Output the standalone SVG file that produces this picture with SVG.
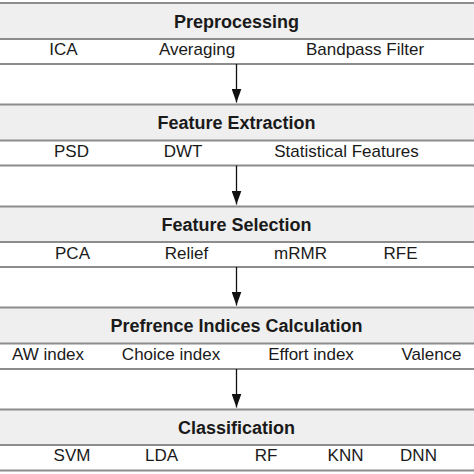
<svg xmlns="http://www.w3.org/2000/svg" width="474" height="474" viewBox="0 0 474 474">
<style>
.band{fill:#efefef}
.ln{stroke:#8c8c8c;stroke-width:1.8;fill:none}
.hd{font-family:"Liberation Sans",Arial,sans-serif;font-weight:bold;font-size:18px;fill:#1a1a1a;text-anchor:middle}
.it{font-family:"Liberation Sans",Arial,sans-serif;font-size:17px;fill:#1a1a1a;text-anchor:middle}
.ar{stroke:#111;stroke-width:1.3;fill:none}
</style>
<defs>
<marker id="ah" markerWidth="14" markerHeight="10" refX="14" refY="5" orient="auto" markerUnits="userSpaceOnUse" viewBox="0 0 14 10">
<path d="M0,0 L14,5 L0,10 Z" fill="#111"/>
</marker>
</defs>
<rect width="474" height="474" fill="#fff"/>
<g id="preprocessing">
<rect class="band" x="0" y="3" width="474" height="36"/>
<line class="ln" x1="0" y1="3" x2="474" y2="3"/>
<line class="ln" x1="0" y1="39" x2="474" y2="39"/>
<line class="ln" x1="0" y1="64" x2="474" y2="64"/>
<text class="hd" x="236.5" y="27.5">Preprocessing</text>
<text class="it" x="63.5" y="55">ICA</text>
<text class="it" x="197" y="55">Averaging</text>
<text class="it" x="365" y="55">Bandpass Filter</text>
</g>
<g id="feature-extraction">
<rect class="band" x="0" y="104.5" width="474" height="36"/>
<line class="ln" x1="0" y1="104.5" x2="474" y2="104.5"/>
<line class="ln" x1="0" y1="140.5" x2="474" y2="140.5"/>
<line class="ln" x1="0" y1="165.5" x2="474" y2="165.5"/>
<text class="hd" x="236.5" y="128.5">Feature Extraction</text>
<text class="it" x="71.5" y="156.5">PSD</text>
<text class="it" x="183" y="156.5">DWT</text>
<text class="it" x="346.5" y="156.5">Statistical Features</text>
</g>
<g id="feature-selection">
<rect class="band" x="0" y="206.5" width="474" height="36"/>
<line class="ln" x1="0" y1="206.5" x2="474" y2="206.5"/>
<line class="ln" x1="0" y1="242" x2="474" y2="242"/>
<line class="ln" x1="0" y1="267" x2="474" y2="267"/>
<text class="hd" x="236.5" y="230.5">Feature Selection</text>
<text class="it" x="72.5" y="258.5">PCA</text>
<text class="it" x="186.5" y="258.5">Relief</text>
<text class="it" x="300.5" y="258.5">mRMR</text>
<text class="it" x="400.5" y="258.5">RFE</text>
</g>
<g id="preference-indices">
<rect class="band" x="0" y="307.5" width="474" height="36"/>
<line class="ln" x1="0" y1="307.5" x2="474" y2="307.5"/>
<line class="ln" x1="0" y1="343.5" x2="474" y2="343.5"/>
<line class="ln" x1="0" y1="369" x2="474" y2="369"/>
<text class="hd" x="236.5" y="331.5">Prefrence Indices Calculation</text>
<text class="it" x="48" y="359.5">AW index</text>
<text class="it" x="171" y="359.5">Choice index</text>
<text class="it" x="311" y="359.5">Effort index</text>
<text class="it" x="431.5" y="359.5">Valence</text>
</g>
<g id="classification">
<rect class="band" x="0" y="409.5" width="474" height="36"/>
<line class="ln" x1="0" y1="409.5" x2="474" y2="409.5"/>
<line class="ln" x1="0" y1="445" x2="474" y2="445"/>
<line class="ln" x1="0" y1="470.5" x2="474" y2="470.5"/>
<text class="hd" x="236.5" y="433.5">Classification</text>
<text class="it" x="72" y="461">SVM</text>
<text class="it" x="161.5" y="461">LDA</text>
<text class="it" x="266" y="461">RF</text>
<text class="it" x="345.5" y="461">KNN</text>
<text class="it" x="418.5" y="461">DNN</text>
</g>
<g id="connectors">
<line class="ar" x1="236.5" y1="64" x2="236.5" y2="102.5" marker-end="url(#ah)"/>
<line class="ar" x1="236.5" y1="165.5" x2="236.5" y2="204.5" marker-end="url(#ah)"/>
<line class="ar" x1="236.5" y1="267" x2="236.5" y2="305.5" marker-end="url(#ah)"/>
<line class="ar" x1="236.5" y1="369" x2="236.5" y2="407.5" marker-end="url(#ah)"/>
</g>
</svg>
